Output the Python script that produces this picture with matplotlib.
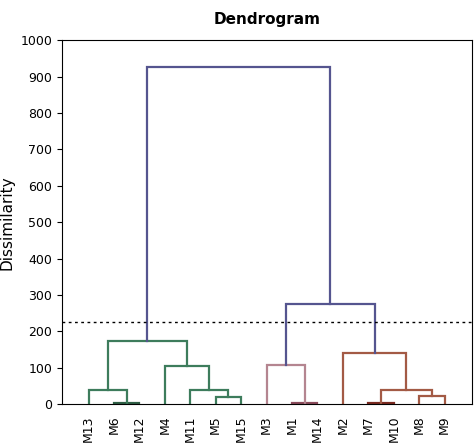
import matplotlib
matplotlib.use("Agg")
import matplotlib.pyplot as plt

leaves = ["M13","M6","M12","M4","M11","M5","M15","M3","M1","M14","M2","M7","M10","M8","M9"]
# merges: (left, right, height, colour)
merges = [
    ("M6","M12",3,"#2f5f45"),
    ("M13","A",38,"#3d7c5c"),
    ("M5","M15",20,"#3d7c5c"),
    ("M11","C",38,"#3d7c5c"),
    ("M4","D",106,"#3d7c5c"),
    ("B","E",173,"#3d7c5c"),
    ("M1","M14",3,"#8a4a5a"),
    ("M3","G",107,"#b48590"),
    ("M7","M10",3,"#7a2a20"),
    ("M8","M9",21,"#a35a45"),
    ("I","J",38,"#a35a45"),
    ("M2","K",140,"#a35a45"),
    ("H","L",275,"#55558f"),
    ("F","M",927,"#55558f"),
]
names = list("ABCDEFGHIJKLMN")
cut = 225

fig = plt.figure(figsize=(4.74,4.48), dpi=100)
ax = fig.add_axes([0.131, 0.098, 0.865, 0.812])
pos = {n:(i,0.0) for i,n in enumerate(leaves)}
for nm,(l,r,h,c) in zip(names,merges):
    xl,yl = pos[l]; xr,yr = pos[r]
    ax.plot([xl,xl,xr,xr],[yl,h,h,yr],color=c,lw=1.6,solid_joinstyle='miter')
    pos[nm]=((xl+xr)/2,h)
ax.axhline(cut,color="black",ls=(0,(2,2.5)),lw=1)
ax.set_xlim(-1.04,15.08)
ax.set_ylim(0,1000)
ax.set_yticks(range(0,1001,100))
ax.set_xticks(range(len(leaves)))
ax.set_xticklabels(leaves,rotation=90,fontsize=9)
ax.tick_params(axis='x',length=0,pad=8)
ax.tick_params(axis='y',labelsize=9)
ax.set_ylabel("Dissimilarity",fontsize=11)
ax.set_title("Dendrogram",fontsize=11,fontweight='bold',pad=12)
fig.savefig("out.png",dpi=100)
